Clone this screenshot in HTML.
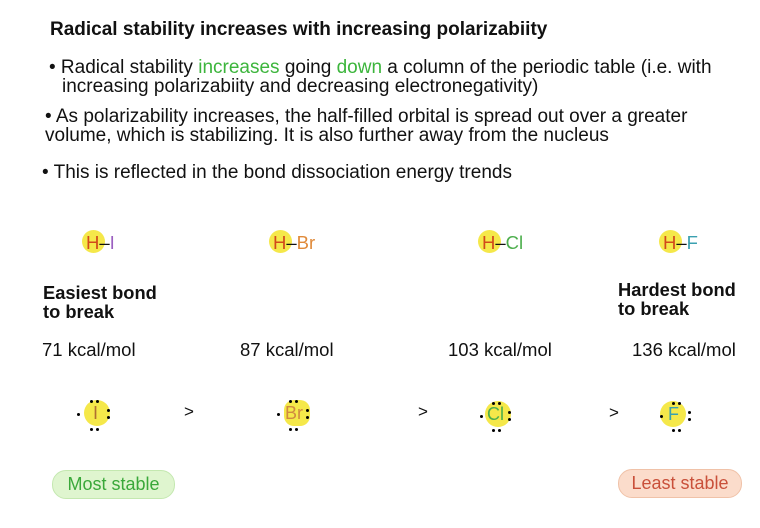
<!DOCTYPE html>
<html><head><style>
body{margin:0;width:760px;height:528px;background:#fff;position:relative;font-family:"Liberation Sans",sans-serif;color:#111;overflow:hidden}
.a{position:absolute;white-space:nowrap}
.t{font-size:19px;line-height:19px}
.b{font-weight:bold}
.g{color:#3cb53c}
.hc{position:absolute;width:23px;height:23px;border-radius:50%;background:#f5e84a}
.lc{position:absolute;width:26px;height:26px;border-radius:50%;background:#f5e84a}
.d{position:absolute;width:3px;height:3px;border-radius:50%;background:#000}
.pill{position:absolute;border-radius:14px;font-size:18px;text-align:center;line-height:27px}
.hx{font-size:18.5px}
.k{font-size:18.5px}
</style></head><body>
<div class="a b" style="left:50px;top:19px;font-size:19px">Radical stability increases with increasing polarizabiity</div>
<div class="a t" style="left:49px;top:58px">• Radical stability <span class="g">increases</span> going <span class="g">down</span> a column of the periodic table (i.e. with</div>
<div class="a t" style="left:62px;top:77px">increasing polarizabiity and decreasing electronegativity)</div>
<div class="a t" style="left:45px;top:107px">• As polarizability increases, the half-filled orbital is spread out over a greater</div>
<div class="a t" style="left:45px;top:126px">volume, which is stabilizing. It is also further away from the nucleus</div>
<div class="a t" style="left:42px;top:163px">• This is reflected in the bond dissociation energy trends</div>

<div class="hc" style="left:82px;top:230px"></div>
<div class="a hx" style="left:86px;top:232px"><span style="color:#d24a1a">H</span>–<span style="color:#9b5fc0">I</span></div>
<div class="hc" style="left:269px;top:230px"></div>
<div class="a hx" style="left:273px;top:232px"><span style="color:#d24a1a">H</span>–<span style="color:#e08a3a">Br</span></div>
<div class="hc" style="left:478px;top:230px"></div>
<div class="a hx" style="left:482px;top:232px"><span style="color:#d24a1a">H</span>–<span style="color:#4cae4c">Cl</span></div>
<div class="hc" style="left:659px;top:230px"></div>
<div class="a hx" style="left:663px;top:232px"><span style="color:#d24a1a">H</span>–<span style="color:#3aa0b0">F</span></div>

<div class="a b" style="left:43px;top:283px;font-size:18.3px;line-height:19px">Easiest bond<br>to break</div>
<div class="a b" style="left:618px;top:280px;font-size:18.3px;line-height:19px">Hardest bond<br>to break</div>

<div class="a k" style="left:42px;top:339px">71 kcal/mol</div>
<div class="a k" style="left:240px;top:339px">87 kcal/mol</div>
<div class="a k" style="left:448px;top:339px">103 kcal/mol</div>
<div class="a k" style="left:632px;top:339px">136 kcal/mol</div>

<div class="lc" style="left:84px;top:400px"></div>
<div class="a" style="left:93px;top:403px;font-size:18px;color:#b07030">I</div>
<div class="d" style="left:77px;top:413px"></div>
<div class="d" style="left:90px;top:400px"></div><div class="d" style="left:96px;top:400px"></div>
<div class="d" style="left:90px;top:428px"></div><div class="d" style="left:96px;top:428px"></div>
<div class="d" style="left:107px;top:409px"></div><div class="d" style="left:107px;top:416px"></div>
<div class="a" style="left:184px;top:402px;font-size:17px">&gt;</div>

<div class="lc" style="left:284px;top:400px;border-radius:10px"></div>
<div class="a" style="left:285px;top:403px;font-size:18px;color:#d08a40">Br</div>
<div class="d" style="left:277px;top:413px"></div>
<div class="d" style="left:289px;top:400px"></div><div class="d" style="left:295px;top:400px"></div>
<div class="d" style="left:289px;top:428px"></div><div class="d" style="left:295px;top:428px"></div>
<div class="d" style="left:306px;top:409px"></div><div class="d" style="left:306px;top:416px"></div>
<div class="a" style="left:418px;top:402px;font-size:17px">&gt;</div>

<div class="lc" style="left:485px;top:401px"></div>
<div class="a" style="left:487px;top:404px;font-size:18px;color:#4cae4c">Cl</div>
<div class="d" style="left:480px;top:415px"></div>
<div class="d" style="left:492px;top:402px"></div><div class="d" style="left:498px;top:402px"></div>
<div class="d" style="left:492px;top:429px"></div><div class="d" style="left:498px;top:429px"></div>
<div class="d" style="left:508px;top:411px"></div><div class="d" style="left:508px;top:418px"></div>
<div class="a" style="left:609px;top:403px;font-size:17px">&gt;</div>

<div class="lc" style="left:660px;top:401px"></div>
<div class="a" style="left:668px;top:404px;font-size:18px;color:#3aa0b0">F</div>
<div class="d" style="left:660px;top:415px"></div>
<div class="d" style="left:672px;top:402px"></div><div class="d" style="left:678px;top:402px"></div>
<div class="d" style="left:672px;top:429px"></div><div class="d" style="left:678px;top:429px"></div>
<div class="d" style="left:688px;top:411px"></div><div class="d" style="left:688px;top:418px"></div>

<div class="pill" style="left:52px;top:470px;width:121px;height:27px;background:#dff5cf;border:1px solid #c4e8b0;color:#3aa83a">Most stable</div>
<div class="pill" style="left:618px;top:469px;width:122px;height:27px;background:#fbdccb;border:1px solid #f0c2a8;color:#c9503a">Least stable</div>
</body></html>
